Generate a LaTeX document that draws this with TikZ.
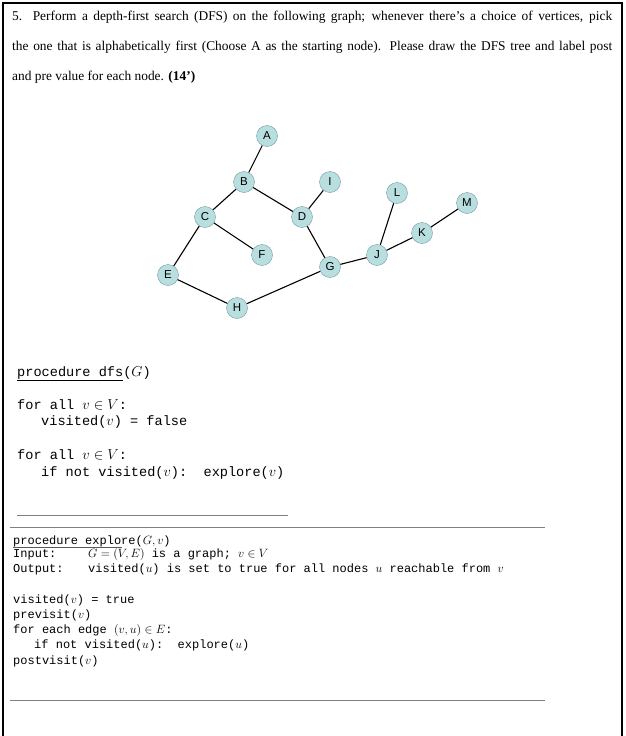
\documentclass[tikz,border=0pt]{standalone}
\usepackage{fontspec}
\setmainfont{Liberation Serif}
\setmonofont{Liberation Mono}
\definecolor{vfill}{RGB}{185,222,224}
\definecolor{vline}{RGB}{115,155,160}
\begin{document}
\begin{tikzpicture}[x=1pt,y=-1pt,
  vtx/.style={circle,draw=vline,fill=vfill,minimum size=21pt,inner sep=0pt,font=\fontspec{Liberation Sans}\fontsize{11.5}{11.5}\selectfont},
  edge/.style={line width=1.1pt},
  code/.style={anchor=base west,inner sep=0pt,font=\ttfamily\fontsize{13.6}{13.6}\selectfont},
  codeb/.style={anchor=base west,inner sep=0pt,font=\ttfamily\fontsize{12}{12}\selectfont},
  rule/.style={draw=gray,line width=0.8pt}]
\useasboundingbox (0,0) rectangle (625,736);
\draw[line width=1.4pt] (3,737) -- (3,3) -- (622,3) -- (622,737);
\node[anchor=north west,inner sep=0pt,text width=600pt,align=justify,font=\fontsize{13.4}{30}\selectfont] (q) at (12,11)
 {5. Perform a depth-first search (DFS) on the following graph; whenever there’s a choice of vertices, pick\linebreak the one that is alphabetically first (Choose A as the starting node). Please draw the DFS tree and label post\linebreak and pre value for each node. \textbf{(14’)}};
% graph
\node[vtx] (A) at (267,136) {A};
\node[vtx] (B) at (244,182) {B};
\node[vtx] (C) at (205,217) {C};
\node[vtx] (D) at (302,217) {D};
\node[vtx] (I) at (330,182) {I};
\node[vtx] (L) at (397,193) {L};
\node[vtx] (M) at (467,203) {M};
\node[vtx] (K) at (422,233) {K};
\node[vtx] (J) at (377,255) {J};
\node[vtx] (G) at (330,267) {G};
\node[vtx] (F) at (262,255) {F};
\node[vtx] (E) at (168,275) {E};
\node[vtx] (H) at (237,308) {H};
\foreach \a/\b in {A/B,B/C,B/D,D/I,D/G,C/F,C/E,E/H,H/G,G/J,J/L,J/K,K/M}
  \draw[edge] (\a) -- (\b);
% dfs
\node[code] (d1) at (17,376) {\underline{procedure dfs}($G$)};
\node[code] (d2) at (17,409) {for all $v\in V$:};
\node[code] (d3) at (41,425) {visited($v$) = false};
\node[code] (d4) at (17,459) {for all $v\in V$:};
\node[code] (d5) at (41,476) {if not visited($v$):\ \ explore($v$)};
\draw[rule] (17,515) coordinate (r1a) -- (288,515) coordinate (r1b);
% explore
\draw[rule] (10,527) coordinate (r2a) -- (545,527) coordinate (r2b);
\node[codeb] (e1) at (13,544) {procedure explore($G,v$)};
\draw[gray!70!black,line width=0.6pt] (13,547) -- (122,547);
\node[codeb] (e2) at (13,557) {Input:};
\node[codeb] (e2b) at (88,557) {$G=(V,E)$ is a graph; $v\in V$};
\node[codeb] (e3) at (13,572) {Output:};
\node[codeb] (e3b) at (88,572) {visited($u$) is set to true for all nodes $u$ reachable from $v$};
\node[codeb] (e4) at (13,603) {visited($v$) = true};
\node[codeb] (e5) at (13,618) {previsit($v$)};
\node[codeb] (e6) at (13,633) {for each edge $(v,u)\in E$:};
\node[codeb] (e7) at (34,648) {if not visited($u$):\ \ explore($u$)};
\node[codeb] (e8) at (13,664) {postvisit($v$)};
\draw[rule] (10,700) coordinate (r3a) -- (545,700) coordinate (r3b);
\end{tikzpicture}
\end{document}
